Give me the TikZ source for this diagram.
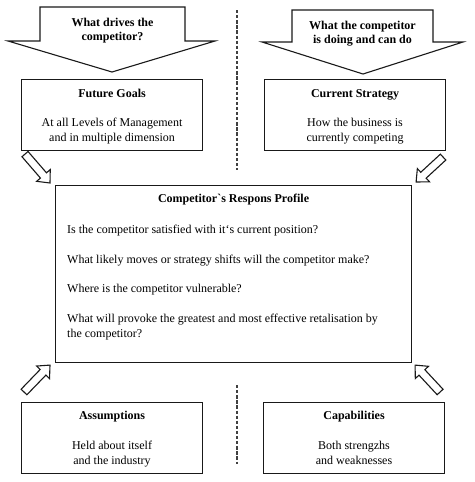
\documentclass[tikz,border=0pt]{standalone}
\usepackage{fontspec}
\setmainfont{Liberation Serif}
\usetikzlibrary{calc}
\begin{document}
\begin{tikzpicture}[x=1pt,y=-1pt,
  box/.style={draw=black!90,line width=1.1pt,minimum width=181pt,minimum height=71pt,anchor=north west,inner sep=0pt},
  ttl/.style={font=\fontsize{12}{14}\selectfont\bfseries,anchor=base,inner sep=0pt},
  txt/.style={font=\fontsize{12}{14}\selectfont,anchor=base,inner sep=0pt},
  qtxt/.style={font=\fontsize{12}{14}\selectfont,anchor=base west,inner sep=0pt},
  outline/.style={draw=black!90,line width=1.1pt,fill=white,line join=miter},
  sep/.style={draw=black!75,line width=1.2pt,dash pattern=on 3.3pt off 1.8pt}
]
\useasboundingbox (0,0) rectangle (474,482);

% macro for hollow block arrows between named coordinates
\newcommand\blockarrow[2]{%
  \draw[outline] ($(#1)!4pt!90:(#2)$) -- ($($(#2)!10pt!(#1)$)!4pt!-90:(#1)$)
    -- ($($(#2)!10pt!(#1)$)!9pt!-90:(#1)$) -- (#2)
    -- ($($(#2)!10pt!(#1)$)!9pt!90:(#1)$) -- ($($(#2)!10pt!(#1)$)!4pt!90:(#1)$)
    -- ($(#1)!4pt!-90:(#2)$) -- cycle;}

% separators
\coordinate (s1) at (237,10);
\coordinate (s2) at (237,170);
\coordinate (s3) at (237,385);
\coordinate (s4) at (237,464);
\draw[sep] (s1) -- (s2);
\draw[sep] (s3) -- (s4);

% top down-arrows
\draw[outline] (40,7) -- (185,7) -- (185,41) -- (215,41) -- (112,72) -- (8,41) -- (40,41) -- cycle;
\node[ttl] (d1a) at (112.5,26) {What drives the};
\node[ttl] (d1b) at (112.5,40) {competitor?};
\draw[outline] (292,10) -- (433,10) -- (433,42) -- (463,42) -- (363,74) -- (262,42) -- (292,42) -- cycle;
\node[ttl] (d2a) at (362.5,29) {What the competitor};
\node[ttl] (d2b) at (362.5,43) {is doing and can do};

% boxes
\node[box] (fg) at (21,79) {};
\node[ttl] (fgt) at ($(fg.north)+(0,18)$) {Future Goals};
\node[txt] (fg1) at ($(fg.north)+(0,47)$) {At all Levels of Management};
\node[txt] (fg2) at ($(fg.north)+(0,62)$) {and in multiple dimension};

\node[box] (cs) at (264,79) {};
\node[ttl] (cst) at ($(cs.north)+(0,18)$) {Current Strategy};
\node[txt] (cs1) at ($(cs.north)+(0,47)$) {How the business is};
\node[txt] (cs2) at ($(cs.north)+(0,62)$) {currently competing};

\node[box,minimum width=356pt,minimum height=177pt] (crp) at (55,185) {};
\node[ttl] (crpt) at ($(crp.north)+(0,17)$) {Competitor\textasciigrave s Respons Profile};
\node[qtxt] (q1) at (67,233) {Is the competitor satisfied with it‘s current position?};
\node[qtxt] (q2) at (67,263) {What likely moves or strategy shifts will the competitor make?};
\node[qtxt] (q3) at (67,292) {Where is the competitor vulnerable?};
\node[qtxt] (q4a) at (67,322) {What will provoke the greatest and most effective retalisation by};
\node[qtxt] (q4b) at (67,337) {the competitor?};

\node[box] (as) at (21,402) {};
\node[ttl] (ast) at ($(as.north)+(0,17)$) {Assumptions};
\node[txt] (as1) at ($(as.north)+(0,47)$) {Held about itself};
\node[txt] (as2) at ($(as.north)+(0,62)$) {and the industry};

\node[box] (cap) at (263,402) {};
\node[ttl] (capt) at ($(cap.north)+(0,17)$) {Capabilities};
\node[txt] (cap1) at ($(cap.north)+(0,47)$) {Both strengzhs};
\node[txt] (cap2) at ($(cap.north)+(0,62)$) {and weaknesses};

% block arrow connectors
\coordinate (a1) at ($(fg.south west)+(4,3)$);
\coordinate (b1) at ($(crp.north west)+(-5,-2)$);
\coordinate (a2) at ($(cs.south east)+(-3,6)$);
\coordinate (b2) at ($(crp.north east)+(4,-3)$);
\coordinate (a3) at ($(as.north west)+(3,-10)$);
\coordinate (b3) at ($(crp.south west)+(-5,2)$);
\coordinate (a4) at ($(cap.north east)+(-5,-10)$);
\coordinate (b4) at ($(crp.south east)+(3,2)$);
\blockarrow{a1}{b1}
\blockarrow{a2}{b2}
\blockarrow{a3}{b3}
\blockarrow{a4}{b4}
\end{tikzpicture}
\end{document}
